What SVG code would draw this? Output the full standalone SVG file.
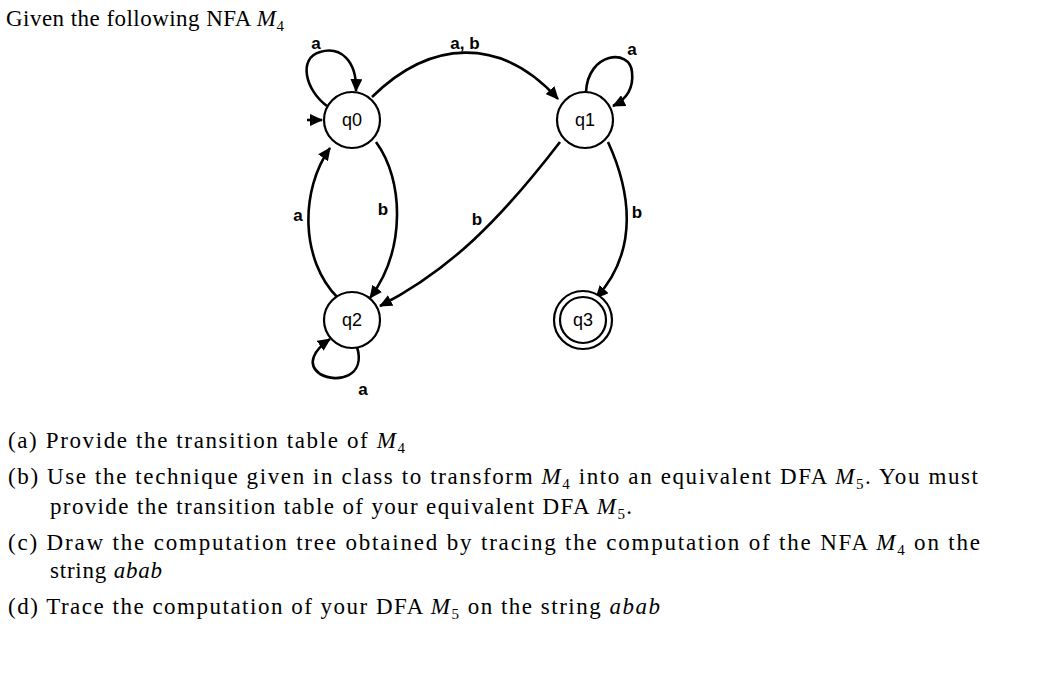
<svg xmlns="http://www.w3.org/2000/svg" width="1062" height="673" viewBox="0 0 1062 673">
<style>
.st{fill:#fff;stroke:#000;stroke-width:2.2}
.e{fill:none;stroke:#000;stroke-width:2.6}
.nl{font-family:"Liberation Sans",Arial,sans-serif;font-size:18px;text-anchor:middle}
.el{font-family:"Liberation Sans",Arial,sans-serif;font-size:17px;font-weight:bold;text-anchor:middle}
.t{font-family:"Liberation Serif","Times New Roman",serif;font-size:23px}
.m{font-style:italic}
</style>
<defs><marker id="ar" markerWidth="13" markerHeight="12" refX="12" refY="6" orient="auto" markerUnits="userSpaceOnUse"><path d="M0,0 L13,6 L0,12 z" fill="#000"/></marker></defs>
<rect width="1062" height="673" fill="#fff"/>
<text class="t" x="6" y="26" textLength="278" lengthAdjust="spacing">Given the following NFA <tspan class="m">M</tspan><tspan font-size="15" dy="5">4</tspan></text>
<g id="connectors">
<path class="e" d="M307,120 L322,120" marker-end="url(#ar)"/>
<path class="e" d="M327,106 C305,90 298,58 320,52 C340,46 357,60 356,91" marker-end="url(#ar)"/>
<path class="e" d="M372,97 C430,40 500,35 558,99" marker-end="url(#ar)"/>
<path class="e" d="M586,92 C588,52 630,48 632,72 C634,90 625,100 613,106" marker-end="url(#ar)"/>
<path class="e" d="M376,142 C404,180 406,250 370,298" marker-end="url(#ar)"/>
<path class="e" d="M338,298 C300,260 300,190 330,148" marker-end="url(#ar)"/>
<path class="e" d="M560,142 C500,220 450,270 380,306" marker-end="url(#ar)"/>
<path class="e" d="M608,142 C630,190 640,250 596,298" marker-end="url(#ar)"/>
<path class="e" d="M357,347 C366,376 338,384 320,374 C306,364 314,350 330,339" marker-end="url(#ar)"/>
</g>
<g class="el">
<text x="316" y="49">a</text><text x="465" y="49">a, b</text><text x="632" y="55">a</text>
<text x="383" y="215">b</text><text x="298" y="221">a</text><text x="477" y="225">b</text><text x="637" y="218">b</text><text x="363" y="395">a</text>
</g>
<g id="q0"><circle class="st" cx="352" cy="120" r="28"/><text class="nl" x="352" y="126">q0</text></g>
<g id="q1"><circle class="st" cx="585" cy="120" r="28"/><text class="nl" x="585" y="126">q1</text></g>
<g id="q2"><circle class="st" cx="352" cy="320" r="28"/><text class="nl" x="352" y="326">q2</text></g>
<g id="q3"><circle class="st" cx="583" cy="320" r="29"/><circle class="st" cx="583" cy="320" r="23"/><text class="nl" x="583" y="326">q3</text></g>
<text class="t" x="8" y="448" textLength="397" lengthAdjust="spacing">(a) Provide the transition table of <tspan class="m">M</tspan><tspan font-size="15" dy="5">4</tspan></text>
<text class="t" x="8" y="484" textLength="970" lengthAdjust="spacing">(b) Use the technique given in class to transform <tspan class="m">M</tspan><tspan font-size="15" dy="5">4</tspan><tspan dy="-5"> into an equivalent DFA </tspan><tspan class="m">M</tspan><tspan font-size="15" dy="5">5</tspan><tspan dy="-5">. You must</tspan></text>
<text class="t" x="50" y="514" textLength="582" lengthAdjust="spacing">provide the transition table of your equivalent DFA <tspan class="m">M</tspan><tspan font-size="15" dy="5">5</tspan><tspan dy="-5">.</tspan></text>
<text class="t" x="8" y="550" textLength="972" lengthAdjust="spacing">(c) Draw the computation tree obtained by tracing the computation of the NFA <tspan class="m">M</tspan><tspan font-size="15" dy="5">4</tspan><tspan dy="-5"> on the</tspan></text>
<text class="t" x="50" y="578" textLength="112" lengthAdjust="spacing">string <tspan class="m">abab</tspan></text>
<text class="t" x="8" y="614" textLength="652" lengthAdjust="spacing">(d) Trace the computation of your DFA <tspan class="m">M</tspan><tspan font-size="15" dy="5">5</tspan><tspan dy="-5"> on the string </tspan><tspan class="m">abab</tspan></text>
</svg>
